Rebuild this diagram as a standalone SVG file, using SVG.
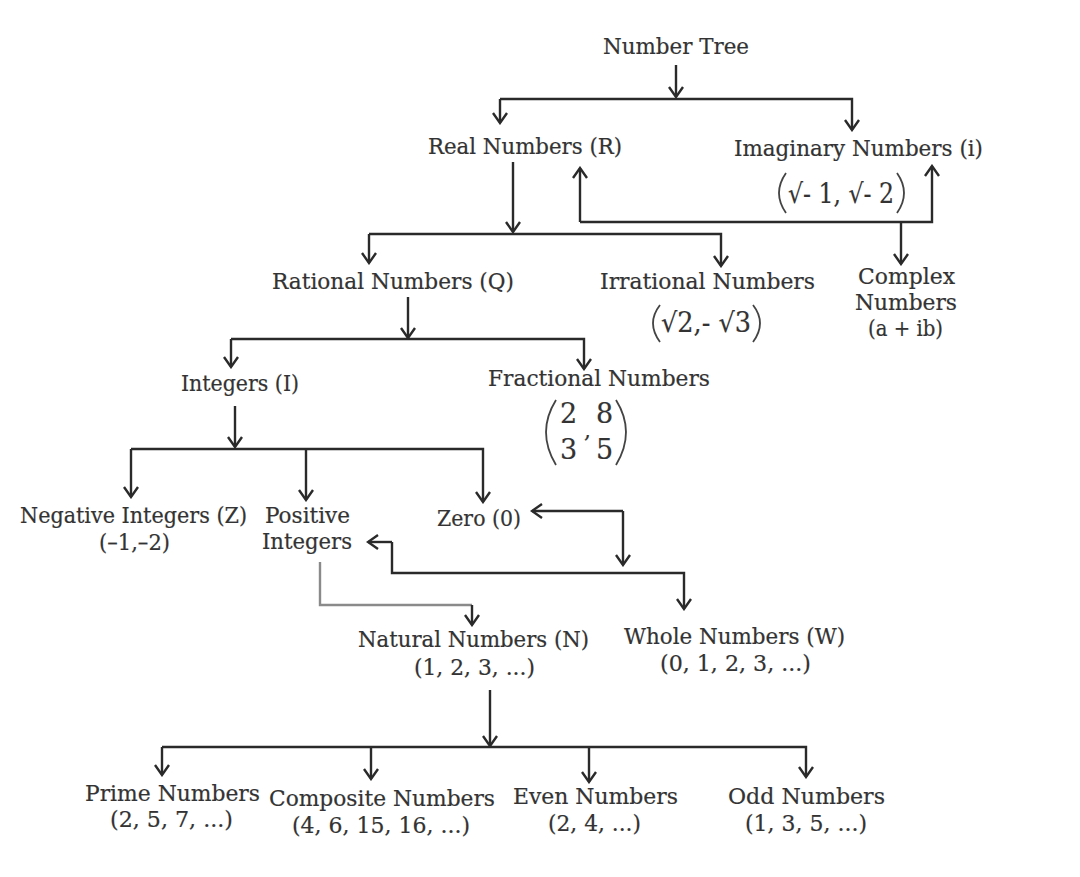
<svg xmlns="http://www.w3.org/2000/svg" width="1080" height="877" viewBox="0 0 1080 877">
<style>
text{font-family:"DejaVu Serif","Liberation Serif",serif;font-size:22px;fill:#333;stroke:#333;stroke-width:.2;text-anchor:start}
.m{font-size:27px}
.c path{fill:none;stroke:#2a2a2a;stroke-width:2.4}
.c path.g{stroke:#8a8a8a}
.p{fill:none;stroke:#444;stroke-width:1.8}
</style>
<defs>
<marker id="a" viewBox="-12 -8 14 16" refX="0" refY="0" markerWidth="14" markerHeight="16" markerUnits="userSpaceOnUse" orient="auto"><path d="M-10,-7 L0,0 L-10,7" fill="none" stroke="#2a2a2a" stroke-width="2.4"/></marker>
</defs>
<rect width="1080" height="877" fill="#fff"/>
<g class="c" id="connectors">
<path d="M676,65V97" marker-end="url(#a)"/>
<path d="M500,99V123" marker-end="url(#a)"/>
<path d="M500,99H852V130" marker-end="url(#a)"/>
<path d="M513,162V232" marker-end="url(#a)"/>
<path d="M369,234V263" marker-end="url(#a)"/>
<path d="M369,234H721V266" marker-end="url(#a)"/>
<path d="M580,222V168" marker-end="url(#a)"/>
<path d="M580,222H932V166" marker-end="url(#a)"/>
<path d="M901,222V264" marker-end="url(#a)"/>
<path d="M408,297V338" marker-end="url(#a)"/>
<path d="M231,339V367" marker-end="url(#a)"/>
<path d="M231,339H584V369" marker-end="url(#a)"/>
<path d="M235,406V447" marker-end="url(#a)"/>
<path d="M131,449V497" marker-end="url(#a)"/>
<path d="M131,449H483V502" marker-end="url(#a)"/>
<path d="M306,449V500" marker-end="url(#a)"/>
<path d="M623,511H532" marker-end="url(#a)"/>
<path d="M623,511V565" marker-end="url(#a)"/>
<path d="M392,542H368" marker-end="url(#a)"/>
<path d="M392,542V573H684V609" marker-end="url(#a)"/>
<path class="g" d="M320,562V605H472"/>
<path d="M472,605V625" marker-end="url(#a)"/>
<path d="M490,690V746" marker-end="url(#a)"/>
<path d="M162,747V775" marker-end="url(#a)"/>
<path d="M162,747H806V777" marker-end="url(#a)"/>
<path d="M371,747V779" marker-end="url(#a)"/>
<path d="M589,747V782" marker-end="url(#a)"/>
</g>
<g id="n-tree"><text x="603" y="54" textLength="146" lengthAdjust="spacingAndGlyphs">Number Tree</text></g>
<g id="n-real"><text x="428" y="154" textLength="194" lengthAdjust="spacingAndGlyphs">Real Numbers (R)</text></g>
<g id="n-imag"><text x="734" y="156" textLength="249" lengthAdjust="spacingAndGlyphs">Imaginary Numbers (i)</text>
<path class="p" d="M786,173Q772,193 786,213M897,173Q911,193 897,213"/>
<text class="m" x="788" y="203" textLength="106" lengthAdjust="spacingAndGlyphs">√- 1, √- 2</text></g>
<g id="n-rational"><text x="272" y="289" textLength="242" lengthAdjust="spacingAndGlyphs">Rational Numbers (Q)</text></g>
<g id="n-irrational"><text x="600" y="289" textLength="215" lengthAdjust="spacingAndGlyphs">Irrational Numbers</text>
<path class="p" d="M660,305Q646,323 660,342M753,305Q767,323 753,342"/>
<text class="m" x="661" y="332" textLength="90" lengthAdjust="spacingAndGlyphs">√2,- √3</text></g>
<g id="n-complex"><text x="858" y="284" textLength="97" lengthAdjust="spacingAndGlyphs">Complex</text>
<text x="855" y="310" textLength="102" lengthAdjust="spacingAndGlyphs">Numbers</text>
<text x="868" y="336" textLength="75" lengthAdjust="spacingAndGlyphs">(a + ib)</text></g>
<g id="n-integers"><text x="181" y="391" textLength="118" lengthAdjust="spacingAndGlyphs">Integers (I)</text></g>
<g id="n-fractional"><text x="488" y="386" textLength="222" lengthAdjust="spacingAndGlyphs">Fractional Numbers</text>
<path class="p" d="M556,400Q536,432 556,465M616,400Q636,432 616,465"/>
<text class="m" x="560" y="423">2</text><text class="m" x="596" y="423">8</text>
<text class="m" x="560" y="459">3</text><text x="584" y="438">,</text><text class="m" x="596" y="459">5</text></g>
<g id="n-negative"><text x="20" y="523" textLength="227" lengthAdjust="spacingAndGlyphs">Negative Integers (Z)</text>
<text x="99" y="550" textLength="71" lengthAdjust="spacingAndGlyphs">(–1,–2)</text></g>
<g id="n-positive"><text x="265" y="523" textLength="85" lengthAdjust="spacingAndGlyphs">Positive</text>
<text x="262" y="549" textLength="90" lengthAdjust="spacingAndGlyphs">Integers</text></g>
<g id="n-zero"><text x="437" y="526" textLength="84" lengthAdjust="spacingAndGlyphs">Zero (0)</text></g>
<g id="n-natural"><text x="358" y="647" textLength="231" lengthAdjust="spacingAndGlyphs">Natural Numbers (N)</text>
<text x="414" y="675" textLength="121" lengthAdjust="spacingAndGlyphs">(1, 2, 3, ...)</text></g>
<g id="n-whole"><text x="624" y="644" textLength="221" lengthAdjust="spacingAndGlyphs">Whole Numbers (W)</text>
<text x="660" y="671" textLength="151" lengthAdjust="spacingAndGlyphs">(0, 1, 2, 3, ...)</text></g>
<g id="n-prime"><text x="85" y="801" textLength="175" lengthAdjust="spacingAndGlyphs">Prime Numbers</text>
<text x="110" y="827" textLength="123" lengthAdjust="spacingAndGlyphs">(2, 5, 7, ...)</text></g>
<g id="n-composite"><text x="269" y="806" textLength="226" lengthAdjust="spacingAndGlyphs">Composite Numbers</text>
<text x="292" y="833" textLength="178" lengthAdjust="spacingAndGlyphs">(4, 6, 15, 16, ...)</text></g>
<g id="n-even"><text x="513" y="804" textLength="165" lengthAdjust="spacingAndGlyphs">Even Numbers</text>
<text x="548" y="831" textLength="93" lengthAdjust="spacingAndGlyphs">(2, 4, ...)</text></g>
<g id="n-odd"><text x="728" y="804" textLength="157" lengthAdjust="spacingAndGlyphs">Odd Numbers</text>
<text x="745" y="831" textLength="122" lengthAdjust="spacingAndGlyphs">(1, 3, 5, ...)</text></g>
</svg>
